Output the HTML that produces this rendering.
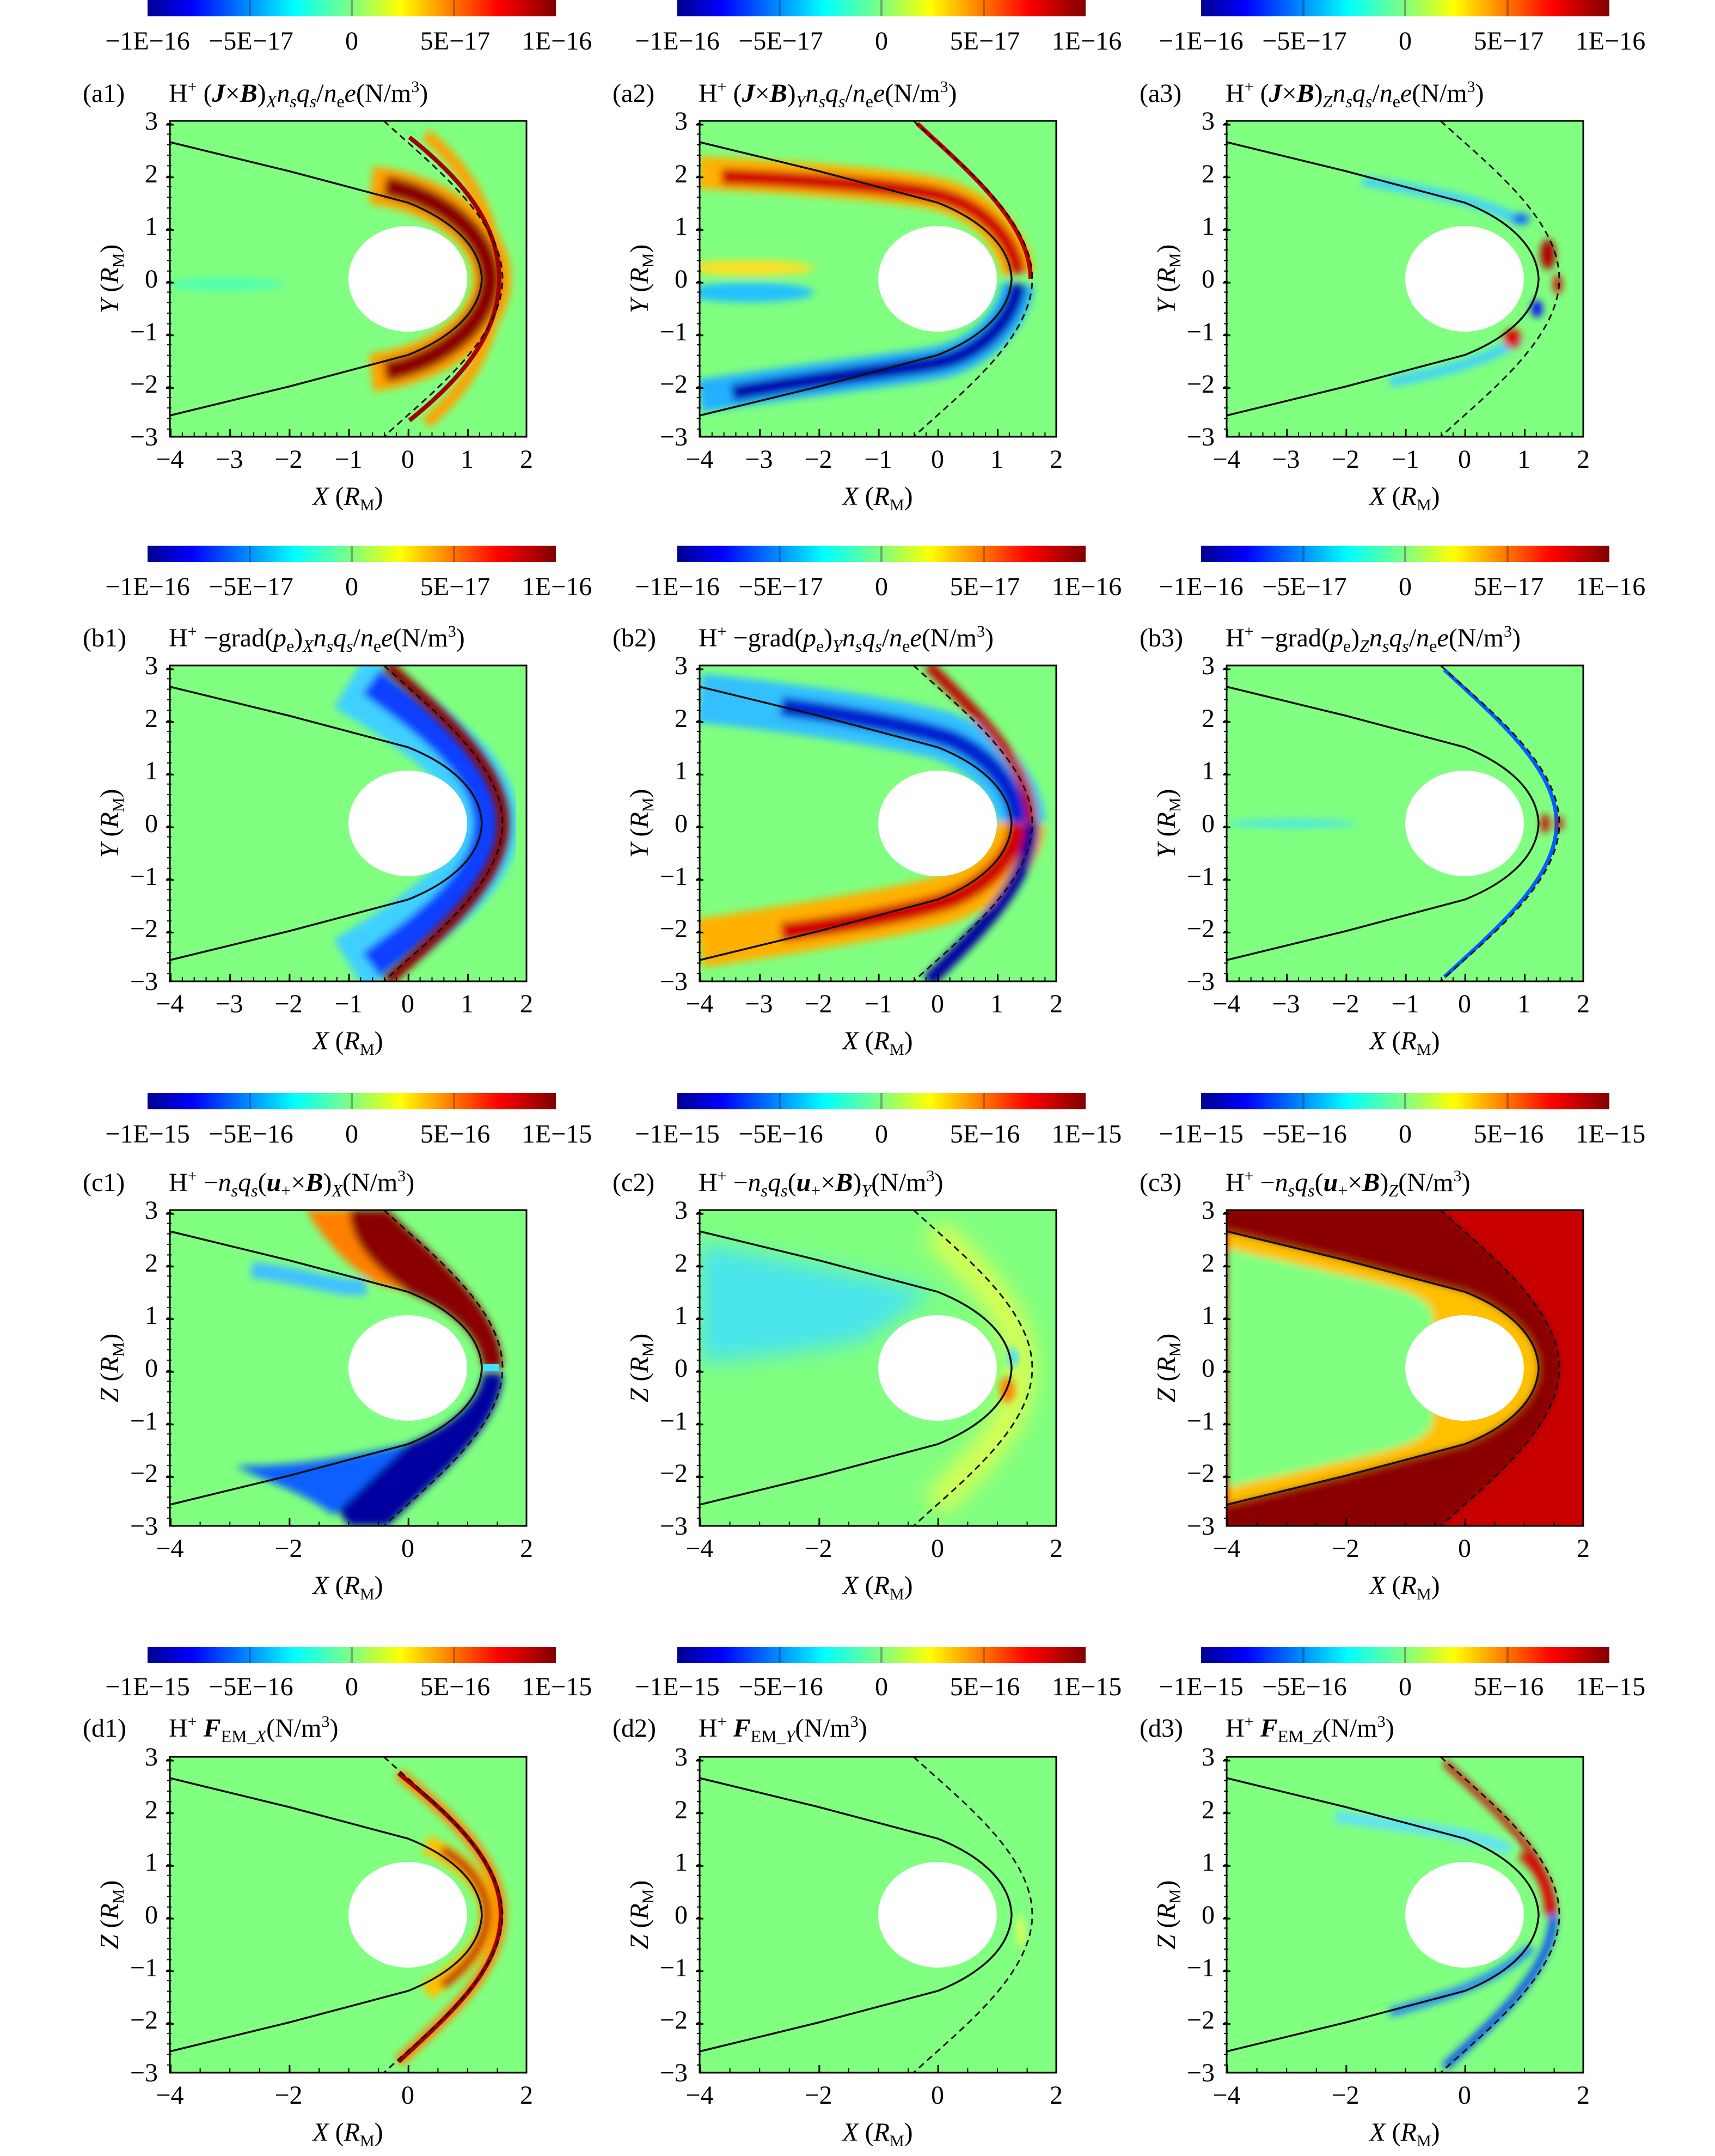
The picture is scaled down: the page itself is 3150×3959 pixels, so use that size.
<!DOCTYPE html>
<html><head><meta charset="utf-8"><style>
html,body{margin:0;padding:0;background:#fff}
svg text{font-family:"Liberation Serif",serif;font-size:48px;fill:#000}
.i{font-style:italic}.b{font-weight:bold;font-style:italic}
</style></head><body>
<svg width="3150" height="3954" viewBox="0 0 3150 3954" xmlns="http://www.w3.org/2000/svg">
<defs>
<linearGradient id="jet" x1="0" x2="1" y1="0" y2="0">
<stop offset="0" stop-color="#00008f"/><stop offset="0.11" stop-color="#0000ff"/><stop offset="0.36" stop-color="#00ffff"/><stop offset="0.5" stop-color="#80ff80"/><stop offset="0.62" stop-color="#ffff00"/><stop offset="0.86" stop-color="#ff0000"/><stop offset="1" stop-color="#800000"/>
</linearGradient>
<filter id="bl" x="-20%" y="-20%" width="140%" height="140%"><feGaussianBlur stdDeviation="7"/></filter>
<filter id="bl2" x="-30%" y="-30%" width="160%" height="160%"><feGaussianBlur stdDeviation="20"/></filter>
<clipPath id="box"><rect x="0" y="0" width="655" height="580"/></clipPath>
<symbol id="cb" overflow="visible"><rect x="0" y="0" width="750" height="30" fill="url(#jet)"/><rect x="186" y="0" width="4" height="30" fill="#000" opacity=".25"/><rect x="373" y="0" width="4" height="30" fill="#555" opacity=".5"/><rect x="561" y="0" width="4" height="30" fill="#000" opacity=".25"/></symbol>
<symbol id="lines" overflow="visible">
<ellipse cx="437" cy="290" rx="109" ry="97" fill="#fff"/>
<path d="M0,39 L218,92 C330,122 400,140 437,150 C500,175 570,220 573,290 C570,360 500,405 437,430 C400,440 330,458 218,488 L0,541" fill="none" stroke="#111" stroke-width="3.5"/>
<path d="M393,0 C480,80 611,180 611,290 C611,400 480,500 393,580" fill="none" stroke="#111" stroke-width="3" stroke-dasharray="12 8"/>
<rect x="0" y="0" width="655" height="580" fill="none" stroke="#000" stroke-width="3"/>
<line x1="-1" y1="4" x2="-1" y2="580" stroke="#000" stroke-width="8" stroke-dasharray="2 17.34"/>
<line x1="0" y1="7" x2="0" y2="580" stroke="#000" stroke-width="14" stroke-dasharray="3 93.7" transform="translate(0,-1.5)"/>
</symbol>
<symbol id="tkA" overflow="visible">
<line x1="0" y1="576" x2="655" y2="576" stroke="#000" stroke-width="8" stroke-dasharray="2 19.84"/>
<line x1="0" y1="573" x2="655" y2="573" stroke="#000" stroke-width="14" stroke-dasharray="3 106.2"/>
</symbol>
<symbol id="tkC" overflow="visible">
<line x1="0" y1="576" x2="655" y2="576" stroke="#000" stroke-width="8" stroke-dasharray="2 52.6"/>
<line x1="0" y1="573" x2="655" y2="573" stroke="#000" stroke-width="14" stroke-dasharray="3 215.4"/>
</symbol>
<symbol id="ylab" overflow="visible">
<text x="-22" y="16" text-anchor="end">3</text><text x="-22" y="113" text-anchor="end">2</text><text x="-22" y="209" text-anchor="end">1</text><text x="-22" y="306" text-anchor="end">0</text><text x="-22" y="403" text-anchor="end">−1</text><text x="-22" y="499" text-anchor="end">−2</text><text x="-22" y="596" text-anchor="end">−3</text>
<text x="327" y="705" text-anchor="middle"><tspan class="i">X</tspan> (<tspan class="i">R</tspan><tspan font-size="30" dy="10">M</tspan><tspan dy="-10">)</tspan></text>
</symbol>
<symbol id="xA" overflow="visible">
<text x="0" y="637" text-anchor="middle">−4</text><text x="109" y="637" text-anchor="middle">−3</text><text x="218" y="637" text-anchor="middle">−2</text><text x="328" y="637" text-anchor="middle">−1</text><text x="437" y="637" text-anchor="middle">0</text><text x="546" y="637" text-anchor="middle">1</text><text x="655" y="637" text-anchor="middle">2</text>
<text transform="translate(-95,290) rotate(-90)" text-anchor="middle"><tspan class="i">Y</tspan> (<tspan class="i">R</tspan><tspan font-size="30" dy="10">M</tspan><tspan dy="-10">)</tspan></text>
</symbol>
<symbol id="xC" overflow="visible">
<text x="0" y="637" text-anchor="middle">−4</text><text x="218" y="637" text-anchor="middle">−2</text><text x="437" y="637" text-anchor="middle">0</text><text x="655" y="637" text-anchor="middle">2</text>
<text transform="translate(-95,290) rotate(-90)" text-anchor="middle"><tspan class="i">Z</tspan> (<tspan class="i">R</tspan><tspan font-size="30" dy="10">M</tspan><tspan dy="-10">)</tspan></text>
</symbol>
<symbol id="cbl16" overflow="visible">
<text x="0" y="91" text-anchor="middle">−1E−16</text><text x="190" y="91" text-anchor="middle">−5E−17</text><text x="375" y="91" text-anchor="middle">0</text><text x="565" y="91" text-anchor="middle">5E−17</text><text x="752" y="91" text-anchor="middle">1E−16</text>
</symbol>
<symbol id="cbl15" overflow="visible">
<text x="0" y="91" text-anchor="middle">−1E−15</text><text x="190" y="91" text-anchor="middle">−5E−16</text><text x="375" y="91" text-anchor="middle">0</text><text x="565" y="91" text-anchor="middle">5E−16</text><text x="752" y="91" text-anchor="middle">1E−15</text>
</symbol>
</defs>

<!-- colorbars -->
<use href="#cb" x="271" y="0"/><use href="#cb" x="1244" y="0"/><use href="#cb" x="2206" y="0"/>
<use href="#cb" x="271" y="1002"/><use href="#cb" x="1244" y="1002"/><use href="#cb" x="2206" y="1002"/>
<use href="#cb" x="271" y="2007"/><use href="#cb" x="1244" y="2007"/><use href="#cb" x="2206" y="2007"/>
<use href="#cb" x="271" y="3024"/><use href="#cb" x="1244" y="3024"/><use href="#cb" x="2206" y="3024"/>
<use href="#cbl16" x="271" y="0"/><use href="#cbl16" x="1244" y="0"/><use href="#cbl16" x="2206" y="0"/>
<use href="#cbl16" x="271" y="1002"/><use href="#cbl16" x="1244" y="1002"/><use href="#cbl16" x="2206" y="1002"/>
<use href="#cbl15" x="271" y="2007"/><use href="#cbl15" x="1244" y="2007"/><use href="#cbl15" x="2206" y="2007"/>
<use href="#cbl15" x="271" y="3022"/><use href="#cbl15" x="1244" y="3022"/><use href="#cbl15" x="2206" y="3022"/>

<!-- ===== Row a ===== -->
<g transform="translate(312,222)">
<rect width="655" height="580" fill="#80ff80"/>
<g clip-path="url(#box)">
<g filter="url(#bl)">
<ellipse cx="100" cy="300" rx="110" ry="12" fill="#50ffb0"/>
<path d="M470,25 C560,100 600,190 601,290 C600,390 560,480 470,555" fill="none" stroke="#ffa000" stroke-width="22"/>
<path d="M370,118 C470,128 590,190 592,290 C590,390 470,452 370,462" fill="none" stroke="#ffa000" stroke-width="70"/>
<path d="M395,120 C475,132 585,195 588,290 C585,385 475,448 395,460" fill="none" stroke="#8a0000" stroke-width="38"/>
</g>
<path d="M440,30 C540,110 604,190 605,290 C604,390 540,470 440,550" fill="none" stroke="#a00000" stroke-width="8"/>
</g>
<use href="#lines"/><use href="#tkA"/><use href="#ylab"/><use href="#xA"/>
</g>
<g transform="translate(1285,222)">
<rect width="655" height="580" fill="#80ff80"/>
<g clip-path="url(#box)">
<g filter="url(#bl)">
<ellipse cx="90" cy="315" rx="120" ry="18" fill="#20c0ff"/>
<ellipse cx="90" cy="270" rx="120" ry="14" fill="#ffe020"/>
<path d="M0,95 C200,105 380,120 440,135 C520,155 575,215 585,280" fill="none" stroke="#ffb000" stroke-width="60"/>
<path d="M40,102 C200,108 380,122 440,137 C520,157 575,215 585,280" fill="none" stroke="#d00000" stroke-width="30"/>
<path d="M0,505 C200,475 380,455 440,443 C520,425 575,365 585,300" fill="none" stroke="#20b0ff" stroke-width="60"/>
<path d="M60,500 C200,475 380,455 440,443 C520,425 575,365 585,300" fill="none" stroke="#0000b0" stroke-width="30"/>
</g>
<path d="M400,5 C485,85 608,185 608,290" fill="none" stroke="#c00000" stroke-width="8"/>
</g>
<use href="#lines"/><use href="#tkA"/><use href="#ylab"/><use href="#xA"/>
</g>
<g transform="translate(2253,222)">
<rect width="655" height="580" fill="#80ff80"/>
<g clip-path="url(#box)">
<g filter="url(#bl)">
<path d="M250,110 C380,130 480,150 540,185" fill="none" stroke="#40d0ff" stroke-width="18"/>
<path d="M300,480 C400,460 480,440 540,400" fill="none" stroke="#40d0ff" stroke-width="18"/>
<ellipse cx="590" cy="245" rx="14" ry="28" fill="#b00000"/>
<ellipse cx="608" cy="300" rx="8" ry="18" fill="#e00000"/>
<ellipse cx="540" cy="180" rx="16" ry="10" fill="#1060ff"/>
<ellipse cx="570" cy="345" rx="10" ry="16" fill="#0000ff"/>
<ellipse cx="525" cy="400" rx="16" ry="18" fill="#e00000"/>
</g>
</g>
<use href="#lines"/><use href="#tkA"/><use href="#ylab"/><use href="#xA"/>
</g>

<!-- ===== Row b ===== -->
<g transform="translate(312,1222)">
<rect width="655" height="580" fill="#80ff80"/>
<g clip-path="url(#box)">
<g filter="url(#bl)">
<path d="M330,30 C460,110 585,190 585,290 C585,390 460,470 330,550" fill="none" stroke="#40d0ff" stroke-width="110"/>
<path d="M370,30 C480,110 585,190 585,290 C585,390 480,470 370,550" fill="none" stroke="#1040ff" stroke-width="55"/>
</g>
<path d="M400,0 C485,80 612,180 612,290 C612,400 485,500 400,580" fill="none" stroke="#900000" stroke-width="22" filter="url(#bl)"/>
</g>
<use href="#lines"/><use href="#tkA"/><use href="#ylab"/><use href="#xA"/>
</g>
<g transform="translate(1285,1222)">
<rect width="655" height="580" fill="#80ff80"/>
<g clip-path="url(#box)">
<g filter="url(#bl)">
<path d="M0,60 C200,80 380,110 450,130 C530,160 585,220 590,290" fill="none" stroke="#30c0ff" stroke-width="90"/>
<path d="M150,75 C300,95 400,115 460,135 C530,165 580,220 585,290" fill="none" stroke="#0020d0" stroke-width="35"/>
<path d="M0,510 C200,480 380,450 450,430 C530,400 585,350 590,290" fill="none" stroke="#ffb000" stroke-width="90"/>
<path d="M150,490 C300,470 400,450 460,430 C530,400 580,350 585,290" fill="none" stroke="#d00000" stroke-width="35"/>
<path d="M420,0 C500,80 610,180 610,290" fill="none" stroke="#c00000" stroke-width="20"/>
<path d="M610,290 C610,400 500,500 420,580" fill="none" stroke="#0000a0" stroke-width="26"/>
</g>
</g>
<use href="#lines"/><use href="#tkA"/><use href="#ylab"/><use href="#xA"/>
</g>
<g transform="translate(2253,1222)">
<rect width="655" height="580" fill="#80ff80"/>
<g clip-path="url(#box)">
<path d="M400,8 C485,88 606,185 606,290 C606,395 485,492 400,572" fill="none" stroke="#0060ff" stroke-width="7"/>
<g filter="url(#bl)">
<ellipse cx="120" cy="290" rx="120" ry="6" fill="#40e0ff"/>
<ellipse cx="585" cy="290" rx="8" ry="18" fill="#d00000"/>
<ellipse cx="612" cy="290" rx="6" ry="14" fill="#d00000"/>
</g>
</g>
<use href="#lines"/><use href="#tkA"/><use href="#ylab"/><use href="#xA"/>
</g>

<!-- ===== Row c ===== -->
<g transform="translate(312,2222)">
<rect width="655" height="580" fill="#80ff80"/>
<g clip-path="url(#box)">
<g filter="url(#bl)">
<path d="M150,110 C250,120 320,150 360,140" fill="none" stroke="#40c0ff" stroke-width="30"/>
<path d="M330,0 L400,0 C480,80 611,180 611,290 L575,290 C570,220 500,175 437,150 C380,135 330,90 300,40 Z" fill="#8a0000"/>
<path d="M250,0 L330,0 C330,60 380,110 437,150 L380,135 C320,100 280,50 250,0 Z" fill="#ff8000"/>
<path d="M330,580 L400,580 C480,500 611,400 611,300 L575,300 C570,360 500,405 437,430 C380,445 330,490 300,540 Z" fill="#0000a0"/>
<path d="M120,470 C250,470 330,450 437,430 L300,560 C250,520 180,500 120,470 Z" fill="#1060ff"/>
</g>
<rect x="575" y="283" width="30" height="12" fill="#40e0ff"/>
</g>
<use href="#lines"/><use href="#tkC"/><use href="#ylab"/><use href="#xC"/>
</g>
<g transform="translate(1285,2222)">
<rect width="655" height="580" fill="#80ff80"/>
<g clip-path="url(#box)">
<g filter="url(#bl2)">
<path d="M0,60 C150,90 300,120 430,150 L300,240 C200,260 100,270 0,280 Z" fill="#40e0ff" opacity=".85"/>
<path d="M430,40 C520,120 590,200 590,290 C590,380 520,460 430,540" fill="none" stroke="#e0ff50" stroke-width="50"/>
</g>
<g filter="url(#bl)">
<ellipse cx="565" cy="330" rx="14" ry="24" fill="#ff8000"/>
<ellipse cx="575" cy="270" rx="10" ry="18" fill="#40e0ff"/>
</g>
</g>
<use href="#lines"/><use href="#tkC"/><use href="#ylab"/><use href="#xC"/>
</g>
<g transform="translate(2253,2222)">
<rect width="655" height="580" fill="#c80000"/>
<g clip-path="url(#box)">
<g filter="url(#bl)">
<path d="M0,0 L393,0 C480,80 611,180 611,290 C611,400 480,500 393,580 L0,580 Z" fill="#8a0000"/>
<path d="M0,39 L218,92 C330,122 400,140 437,150 C500,175 570,220 573,290 C570,360 500,405 437,430 C400,440 330,458 218,488 L0,541 Z" fill="#ffc000"/>
<path d="M0,70 L218,120 C330,145 380,160 380,200 L380,380 C380,420 330,435 218,460 L0,510 Z" fill="#80ff80"/>
</g>
<path d="M0,0 L393,0 C480,80 611,180 611,290 C611,400 480,500 393,580 L0,580 L0,541 L218,488 C330,458 400,440 437,430 C500,405 570,360 573,290 C570,220 500,175 437,150 C400,140 330,122 218,92 L0,39 Z" fill="#8a0000" opacity=".55"/>
</g>
<use href="#lines"/><use href="#tkC"/><use href="#ylab"/><use href="#xC"/>
</g>

<!-- ===== Row d ===== -->
<g transform="translate(312,3226)">
<rect width="655" height="580" fill="#80ff80"/>
<g clip-path="url(#box)">
<g filter="url(#bl)">
<path d="M470,160 C540,190 585,240 586,290 C585,340 540,390 470,430" fill="none" stroke="#ffc000" stroke-width="34"/>
<path d="M500,170 C560,205 582,250 583,290 C582,330 560,375 500,420" fill="none" stroke="#c00000" stroke-width="16"/>
<path d="M420,30 C505,100 608,185 608,290 C608,395 505,480 420,560" fill="none" stroke="#ff8000" stroke-width="20"/>
</g>
<path d="M420,30 C505,100 608,185 608,290 C608,395 505,480 420,560" fill="none" stroke="#a00000" stroke-width="8"/>
</g>
<use href="#lines"/><use href="#tkC"/><use href="#ylab"/><use href="#xC"/>
</g>
<g transform="translate(1285,3226)">
<rect width="655" height="580" fill="#80ff80"/>
<g clip-path="url(#box)">
<g filter="url(#bl)">
<ellipse cx="590" cy="320" rx="10" ry="30" fill="#d0ff60"/>
</g>
</g>
<use href="#lines"/><use href="#tkC"/><use href="#ylab"/><use href="#xC"/>
</g>
<g transform="translate(2253,3226)">
<rect width="655" height="580" fill="#80ff80"/>
<g clip-path="url(#box)">
<g filter="url(#bl)">
<path d="M200,110 C350,130 450,140 520,170" fill="none" stroke="#60e0ff" stroke-width="20"/>
<path d="M400,10 C485,90 600,185 600,290" fill="none" stroke="#d00000" stroke-width="12"/>
<path d="M540,180 C580,210 590,250 592,290" fill="none" stroke="#e00000" stroke-width="14"/>
<path d="M600,290 C600,395 485,490 400,570" fill="none" stroke="#0040ff" stroke-width="14"/>
<path d="M300,470 C400,440 480,420 560,350" fill="none" stroke="#2080ff" stroke-width="16"/>
</g>
</g>
<use href="#lines"/><use href="#tkC"/><use href="#ylab"/><use href="#xC"/>
</g>

<!-- labels and titles -->
<text x="152" y="187">(a1)</text>
<text x="1125" y="187">(a2)</text>
<text x="2093" y="187">(a3)</text>
<text x="310" y="187">H<tspan font-size="30" dy="-18">+</tspan><tspan dy="18"> (</tspan><tspan class="b">J</tspan>×<tspan class="b">B</tspan>)<tspan class="i" font-size="32" dy="10">X</tspan><tspan class="i" dy="-10">n</tspan><tspan class="i" font-size="32" dy="10">s</tspan><tspan class="i" dy="-10">q</tspan><tspan class="i" font-size="32" dy="10">s</tspan><tspan dy="-10">/</tspan><tspan class="i">n</tspan><tspan font-size="32" dy="10">e</tspan><tspan class="i" dy="-10">e</tspan>(N/m<tspan font-size="30" dy="-18">3</tspan><tspan dy="18">)</tspan></text>
<text x="1283" y="187">H<tspan font-size="30" dy="-18">+</tspan><tspan dy="18"> (</tspan><tspan class="b">J</tspan>×<tspan class="b">B</tspan>)<tspan class="i" font-size="32" dy="10">Y</tspan><tspan class="i" dy="-10">n</tspan><tspan class="i" font-size="32" dy="10">s</tspan><tspan class="i" dy="-10">q</tspan><tspan class="i" font-size="32" dy="10">s</tspan><tspan dy="-10">/</tspan><tspan class="i">n</tspan><tspan font-size="32" dy="10">e</tspan><tspan class="i" dy="-10">e</tspan>(N/m<tspan font-size="30" dy="-18">3</tspan><tspan dy="18">)</tspan></text>
<text x="2251" y="187">H<tspan font-size="30" dy="-18">+</tspan><tspan dy="18"> (</tspan><tspan class="b">J</tspan>×<tspan class="b">B</tspan>)<tspan class="i" font-size="32" dy="10">Z</tspan><tspan class="i" dy="-10">n</tspan><tspan class="i" font-size="32" dy="10">s</tspan><tspan class="i" dy="-10">q</tspan><tspan class="i" font-size="32" dy="10">s</tspan><tspan dy="-10">/</tspan><tspan class="i">n</tspan><tspan font-size="32" dy="10">e</tspan><tspan class="i" dy="-10">e</tspan>(N/m<tspan font-size="30" dy="-18">3</tspan><tspan dy="18">)</tspan></text>

<text x="152" y="1187">(b1)</text>
<text x="1125" y="1187">(b2)</text>
<text x="2093" y="1187">(b3)</text>
<text x="310" y="1187">H<tspan font-size="30" dy="-18">+</tspan><tspan dy="18"> −grad(</tspan><tspan class="i">p</tspan><tspan font-size="32" dy="10">e</tspan><tspan dy="-10">)</tspan><tspan class="i" font-size="32" dy="10">X</tspan><tspan class="i" dy="-10">n</tspan><tspan class="i" font-size="32" dy="10">s</tspan><tspan class="i" dy="-10">q</tspan><tspan class="i" font-size="32" dy="10">s</tspan><tspan dy="-10">/</tspan><tspan class="i">n</tspan><tspan font-size="32" dy="10">e</tspan><tspan class="i" dy="-10">e</tspan>(N/m<tspan font-size="30" dy="-18">3</tspan><tspan dy="18">)</tspan></text>
<text x="1283" y="1187">H<tspan font-size="30" dy="-18">+</tspan><tspan dy="18"> −grad(</tspan><tspan class="i">p</tspan><tspan font-size="32" dy="10">e</tspan><tspan dy="-10">)</tspan><tspan class="i" font-size="32" dy="10">Y</tspan><tspan class="i" dy="-10">n</tspan><tspan class="i" font-size="32" dy="10">s</tspan><tspan class="i" dy="-10">q</tspan><tspan class="i" font-size="32" dy="10">s</tspan><tspan dy="-10">/</tspan><tspan class="i">n</tspan><tspan font-size="32" dy="10">e</tspan><tspan class="i" dy="-10">e</tspan>(N/m<tspan font-size="30" dy="-18">3</tspan><tspan dy="18">)</tspan></text>
<text x="2251" y="1187">H<tspan font-size="30" dy="-18">+</tspan><tspan dy="18"> −grad(</tspan><tspan class="i">p</tspan><tspan font-size="32" dy="10">e</tspan><tspan dy="-10">)</tspan><tspan class="i" font-size="32" dy="10">Z</tspan><tspan class="i" dy="-10">n</tspan><tspan class="i" font-size="32" dy="10">s</tspan><tspan class="i" dy="-10">q</tspan><tspan class="i" font-size="32" dy="10">s</tspan><tspan dy="-10">/</tspan><tspan class="i">n</tspan><tspan font-size="32" dy="10">e</tspan><tspan class="i" dy="-10">e</tspan>(N/m<tspan font-size="30" dy="-18">3</tspan><tspan dy="18">)</tspan></text>

<text x="152" y="2187">(c1)</text>
<text x="1125" y="2187">(c2)</text>
<text x="2093" y="2187">(c3)</text>
<text x="310" y="2187">H<tspan font-size="30" dy="-18">+</tspan><tspan dy="18"> −</tspan><tspan class="i">n</tspan><tspan class="i" font-size="32" dy="10">s</tspan><tspan class="i" dy="-10">q</tspan><tspan class="i" font-size="32" dy="10">s</tspan><tspan dy="-10">(</tspan><tspan class="b">u</tspan><tspan font-size="32" dy="10">+</tspan><tspan dy="-10">×</tspan><tspan class="b">B</tspan>)<tspan class="i" font-size="32" dy="10">X</tspan><tspan dy="-10">(N/m</tspan><tspan font-size="30" dy="-18">3</tspan><tspan dy="18">)</tspan></text>
<text x="1283" y="2187">H<tspan font-size="30" dy="-18">+</tspan><tspan dy="18"> −</tspan><tspan class="i">n</tspan><tspan class="i" font-size="32" dy="10">s</tspan><tspan class="i" dy="-10">q</tspan><tspan class="i" font-size="32" dy="10">s</tspan><tspan dy="-10">(</tspan><tspan class="b">u</tspan><tspan font-size="32" dy="10">+</tspan><tspan dy="-10">×</tspan><tspan class="b">B</tspan>)<tspan class="i" font-size="32" dy="10">Y</tspan><tspan dy="-10">(N/m</tspan><tspan font-size="30" dy="-18">3</tspan><tspan dy="18">)</tspan></text>
<text x="2251" y="2187">H<tspan font-size="30" dy="-18">+</tspan><tspan dy="18"> −</tspan><tspan class="i">n</tspan><tspan class="i" font-size="32" dy="10">s</tspan><tspan class="i" dy="-10">q</tspan><tspan class="i" font-size="32" dy="10">s</tspan><tspan dy="-10">(</tspan><tspan class="b">u</tspan><tspan font-size="32" dy="10">+</tspan><tspan dy="-10">×</tspan><tspan class="b">B</tspan>)<tspan class="i" font-size="32" dy="10">Z</tspan><tspan dy="-10">(N/m</tspan><tspan font-size="30" dy="-18">3</tspan><tspan dy="18">)</tspan></text>

<text x="152" y="3189">(d1)</text>
<text x="1125" y="3189">(d2)</text>
<text x="2093" y="3189">(d3)</text>
<text x="310" y="3189">H<tspan font-size="30" dy="-18">+</tspan><tspan dy="18"> </tspan><tspan class="b">F</tspan><tspan font-size="32" dy="10">EM_</tspan><tspan class="i" font-size="32">X</tspan><tspan dy="-10">(N/m</tspan><tspan font-size="30" dy="-18">3</tspan><tspan dy="18">)</tspan></text>
<text x="1283" y="3189">H<tspan font-size="30" dy="-18">+</tspan><tspan dy="18"> </tspan><tspan class="b">F</tspan><tspan font-size="32" dy="10">EM_</tspan><tspan class="i" font-size="32">Y</tspan><tspan dy="-10">(N/m</tspan><tspan font-size="30" dy="-18">3</tspan><tspan dy="18">)</tspan></text>
<text x="2251" y="3189">H<tspan font-size="30" dy="-18">+</tspan><tspan dy="18"> </tspan><tspan class="b">F</tspan><tspan font-size="32" dy="10">EM_</tspan><tspan class="i" font-size="32">Z</tspan><tspan dy="-10">(N/m</tspan><tspan font-size="30" dy="-18">3</tspan><tspan dy="18">)</tspan></text>
</svg>
</body></html>
